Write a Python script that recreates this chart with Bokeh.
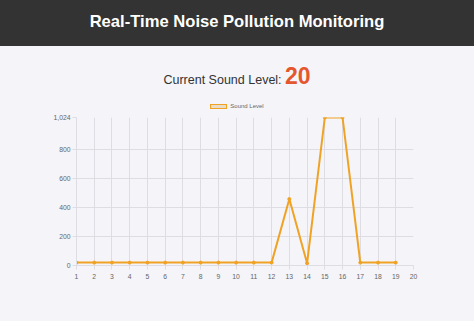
from bokeh.plotting import figure
from bokeh.models import Div, FixedTicker, NumeralTickFormatter, Range1d
from bokeh.layouts import column
from bokeh.embed import file_html
from bokeh.resources import INLINE

# ---- data ----
title_text = "Real-Time Noise Pollution Monitoring"
current_label = "Current Sound Level:"
current_value = 20
series_name = "Sound Level"
x_labels = [1, 2, 3, 4, 5, 6, 7, 8, 9, 10, 11, 12, 13, 14, 15, 16, 17, 18, 19, 20]
time_idx = [1, 2, 3, 4, 5, 6, 7, 8, 9, 10, 11, 12, 13, 14, 15, 16, 17, 18, 19]
sound_level = [20, 20, 20, 20, 20, 20, 20, 20, 20, 20, 20, 20, 460, 15, 1024, 1024, 20, 20, 20]
y_ticks = [0, 200, 400, 600, 800, 1024]

BG = "#f4f4f9"
ORANGE = "#f0a224"
FONT = "'Liberation Sans', Arial, sans-serif"

header = Div(
    text=(f"<div style=\"width:474px;height:46px;background:#333333;color:#ffffff;"
          f"font-family:{FONT};font-weight:bold;font-size:16.6px;text-align:center;"
          f"line-height:44px;\">{title_text}</div>"),
    width=474, height=46, margin=0,
)

sub = Div(
    text=(f"<div style=\"position:relative;width:474px;height:66px;background:{BG};font-family:{FONT};\">"
          f"<div style=\"position:absolute;left:0;top:14px;width:474px;text-align:center;color:#333333;\">"
          f"<span style=\"font-size:12.5px;\">{current_label}</span> "
          f"<span style=\"font-size:23px;font-weight:bold;color:#e4572e;\">{current_value}</span></div>"
          f"<div style=\"position:absolute;left:0;top:56px;width:474px;text-align:center;font-size:6px;color:#666666;line-height:8px;\">"
          f"<span style=\"display:inline-block;width:17px;height:5px;border:1px solid {ORANGE};background:#eadcc6;vertical-align:middle;margin-right:3px;\"></span>"
          f"<span style=\"vertical-align:middle;\">{series_name}</span></div>"
          f"</div>"),
    width=474, height=66, margin=0,
)

p = figure(width=474, height=209, output_backend="svg", toolbar_location=None,
           x_range=Range1d(x_labels[0], x_labels[-1]), y_range=Range1d(0, 1024),
           min_border_left=76, min_border_right=61, min_border_top=5, min_border_bottom=56,
           background_fill_color=BG, border_fill_color=BG, outline_line_color=None)

p.line(time_idx, sound_level, line_color=ORANGE, line_width=2)
p.scatter(time_idx, sound_level, size=3, fill_color=ORANGE, line_color=ORANGE)

grid_c = "#dddde3"
p.xaxis.ticker = FixedTicker(ticks=x_labels)
p.yaxis.ticker = FixedTicker(ticks=y_ticks)
p.yaxis.formatter = NumeralTickFormatter(format="0,0")
p.xgrid.ticker = FixedTicker(ticks=x_labels)
p.ygrid.ticker = FixedTicker(ticks=y_ticks)
for g in (p.xgrid, p.ygrid):
    g.grid_line_color = grid_c
    g.grid_line_width = 1
for ax in (p.xaxis, p.yaxis):
    ax.axis_line_color = grid_c
    ax.major_tick_line_color = grid_c
    ax.major_tick_out = 4
    ax.major_tick_in = 0
    ax.minor_tick_line_color = None
    ax.major_label_text_font_size = "6.8px"
    ax.major_label_text_color = "#666666"
    ax.major_label_text_font = "Liberation Sans"
p.xaxis.major_label_standoff = 4
p.yaxis.major_label_standoff = 2

layout = column(header, sub, p, spacing=0, margin=0, styles={"background": BG})
open("out.html", "w").write(file_html(layout, INLINE))
